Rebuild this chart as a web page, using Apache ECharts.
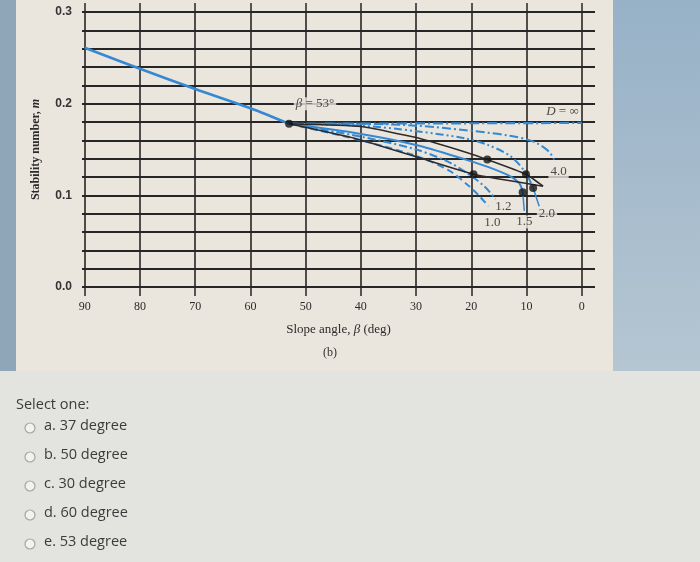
<!DOCTYPE html>
<html><head><meta charset="utf-8">
<script src="https://cdn.jsdelivr.net/npm/echarts@6/dist/echarts.min.js"></script>
<style>html,body{margin:0;padding:0;background:#e3e4e0}#c{width:700px;height:562px}</style>
</head><body><div id="c"></div><script>
// axis ticks
const xTicks = [90, 80, 70, 60, 50, 40, 30, 20, 10, 0];
const yMajor = [0, 0.1, 0.2, 0.3];
// curves: [slope angle (deg), stability number]
const steepCurve = [[90,0.261],[80,0.238],[70,0.216],[60,0.195],[53,0.178]];
const dInf  = [[53,0.178],[0,0.179]];
const d40   = [[53,0.178],[40,0.178],[30,0.176],[21,0.171],[13,0.165],[8.5,0.158],[6,0.148],[5,0.139]];
const d20   = [[53,0.178],[40,0.176],[30,0.170],[21,0.162],[17,0.155],[13,0.143],[10.3,0.126],[8.8,0.108]];
const d20Lead = [[8.8,0.108],[7.7,0.088]];
const d15   = [[53,0.178],[40,0.167],[30,0.155],[21,0.139],[17,0.131],[13,0.121],[11.3,0.113],[10.7,0.104]];
const d15Lead = [[10.7,0.104],[10.4,0.083]];
const d12   = [[53,0.178],[40,0.164],[30,0.150],[24,0.136],[20,0.121],[17.5,0.109],[15.6,0.096]];
const d10   = [[53,0.178],[40,0.160],[30,0.143],[24,0.127],[20.6,0.111],[18.5,0.099],[16.9,0.088]];
const upperBlack = [[53,0.178],[40,0.175],[30,0.163],[21,0.147],[17.1,0.139],[10.1,0.123],[7.0,0.110]];
const lowerBlack = [[53,0.178],[41,0.162],[30,0.142],[19.6,0.123],[7.0,0.110]];
const dots = [[53,0.178],[17.1,0.139],[19.6,0.123],[10.1,0.123],[10.7,0.1035],[8.8,0.108]];
const curveLabels = [
  {text:'{i|D} = ∞', at:[3.5,0.191]},
  {text:'4.0', at:[4.2,0.126]},
  {text:'2.0', at:[6.3,0.080]},
  {text:'1.5', at:[10.4,0.071]},
  {text:'1.2', at:[14.2,0.088]},
  {text:'1.0', at:[16.2,0.070]},
  {text:'{i|β} = 53°', at:[48.3,0.2]}
];
const options = ['a. 37 degree','b. 50 degree','c. 30 degree','d. 60 degree','e. 53 degree'];

const BLUE = '#3589d2';
const INK = '#262626';
const PANEL = '#ebe6dd';
const serif = 'Liberation Serif';

function line(data, color, width, type, z, smooth) {
  return {type:'line', data, showSymbol:false, symbol:'none', smooth:smooth===undefined?0.3:smooth, z:z||3,
    lineStyle:{color, width, type}, silent:true, animation:false};
}

const chart = echarts.init(document.getElementById('c'));
const graphics = [
  {type:'rect', z:-20, shape:{x:0,y:0,width:700,height:562}, style:{fill:'#e3e4e0'}},
  {type:'rect', z:-19, shape:{x:0,y:0,width:16,height:371}, style:{fill:'#8ea6b8'}},
  {type:'rect', z:-19, shape:{x:613,y:0,width:87,height:371}, style:{fill:new echarts.graphic.LinearGradient(0,0,0,1,[{offset:0,color:'#97b1c7'},{offset:1,color:'#b5c6d2'}])}},
  {type:'rect', z:-19, shape:{x:16,y:0,width:597,height:371}, style:{fill:PANEL}},
  {type:'text', z:5, left:323, top:347, style:{text:'(b)', font:'12px "Liberation Serif"', fill:'#333'}},
  {type:'text', z:5, left:16, top:397, style:{text:'Select one:', font:'14.5px "Open Sans"', fill:'#3b3b3b'}}
];
options.forEach((t,i)=>{
  const y = 428 + i*29;
  graphics.push({type:'circle', z:5, shape:{cx:30,cy:y,r:5}, style:{fill:'#f2f2f0', stroke:'#a5a5a5', lineWidth:1.2}});
  graphics.push({type:'text', z:5, left:44, top:y-10, style:{text:t, font:'14.5px "Open Sans"', fill:'#3b3b3b'}});
});

chart.setOption({
  animation:false,
  graphic: graphics,
  grid:{left:82, right:105, top:12, bottom:275},
  xAxis:[{
    type:'value', inverse:true, min:-2.4, max:90.5,
    axisLine:{show:false},
    axisTick:{show:true, customValues:xTicks, length:9, lineStyle:{color:INK, width:1.5}},
    axisLabel:{customValues:xTicks, margin:14, fontFamily:serif, fontSize:12, color:'#2b2b2b'},
    splitLine:{show:true, lineStyle:{color:INK, width:1.6}},
    name:'Slope angle, {i|β} (deg)', nameLocation:'middle', nameGap:36,
    nameTextStyle:{fontFamily:serif, fontSize:13, color:'#2b2b2b', rich:{i:{fontFamily:serif, fontSize:13, fontStyle:'italic', color:'#2b2b2b'}}}
  },{
    type:'value', inverse:true, min:-2.4, max:90.5, position:'top',
    axisLine:{show:false},
    axisTick:{show:true, customValues:xTicks, length:9, lineStyle:{color:INK, width:1.5}},
    axisLabel:{show:false}, splitLine:{show:false}
  }],
  yAxis:{
    type:'value', min:0, max:0.3, interval:0.02,
    axisLine:{show:false}, axisTick:{show:false},
    axisLabel:{margin:10, fontFamily:'Liberation Sans Narrow, Liberation Sans', fontSize:12, fontWeight:'bold', color:'#333',
      formatter:v=> yMajor.some(m=>Math.abs(m-v)<1e-6) ? v.toFixed(1) : ''},
    splitLine:{show:true, lineStyle:{color:INK, width:2}},
    name:'Stability number, {i|m}', nameLocation:'middle', nameGap:40, nameRotate:90,
    nameTextStyle:{fontFamily:serif, fontSize:12, fontWeight:'bold', color:'#2b2b2b', rich:{i:{fontFamily:serif, fontSize:12, fontStyle:'italic', fontWeight:'bold', color:'#2b2b2b'}}}
  },
  series:[
    line(steepCurve, BLUE, 2.6, 'solid', 4, 0.3),
    line(dInf, BLUE, 2.2, [10,3,2,3]),
    line(d40, BLUE, 2, [9,3,2,3]),
    line(d20, BLUE, 2, [8,3,2,3,2,3]),
    line(d20Lead, BLUE, 1.5, 'solid'),
    line(d15, BLUE, 2, 'solid'),
    line(d15Lead, BLUE, 1.5, 'solid'),
    line(d12, BLUE, 2, [8,3,2,3]),
    line(d10, BLUE, 2, [7,4]),
    line(upperBlack, '#2e2a2a', 1.5, 'solid', 5, 0.15),
    line(lowerBlack, '#2e2a2a', 1.5, 'solid', 5, 0.15),
    {type:'scatter', data:dots, symbolSize:8, itemStyle:{color:'#151515'}, z:6, silent:true},
    {type:'scatter', data:curveLabels.map(l=>({value:l.at, label:{formatter:l.text}})),
      symbolSize:0, z:7, silent:true,
      label:{show:true, position:'inside', fontFamily:serif, fontSize:13, color:'#222',
        backgroundColor:PANEL, padding:[0,2],
        rich:{i:{fontFamily:serif, fontSize:13, fontStyle:'italic', color:'#222'}}}}
  ]
});
</script></body></html>
